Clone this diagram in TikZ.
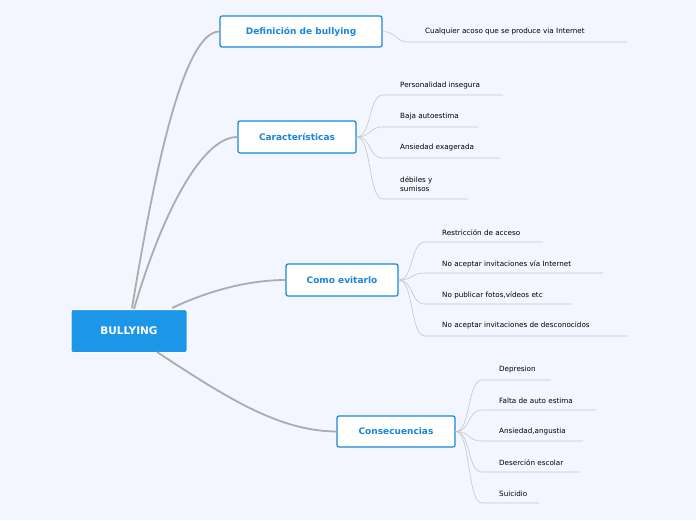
\documentclass[tikz,border=0pt]{standalone}
\usepackage{fontspec}
\setmainfont{DejaVu Sans}
\definecolor{bg}{HTML}{F3F6FE}
\definecolor{mblue}{HTML}{1A86D8}
\definecolor{rblue}{HTML}{1C96E6}
\begin{document}
\begin{tikzpicture}[x=1pt,y=-1pt,
  branch/.style={draw=mblue,fill=white,rounded corners=2pt,line width=1.2pt,font=\fontsize{9}{10}\selectfont\bfseries,text=mblue,inner sep=0pt},
  leaf/.style={anchor=west,font=\fontsize{7.2}{9}\selectfont,align=left,inner sep=0pt},
  trunk/.style={draw=gray!65,line width=1.8pt},
  twig/.style={draw=gray!45,line width=0.6pt}]
\fill[bg] (0,0) rectangle (696,520);
\useasboundingbox (0,0) rectangle (696,520);
\node[draw=white,line width=1pt,fill=rblue,rounded corners=2pt,minimum width=116,minimum height=43,text=white,font=\fontsize{10.5}{12}\selectfont\bfseries] (root) at (129,331) {BULLYING};
\coordinate (r0) at (132,308);
\node[branch,minimum width=162,minimum height=31] (def) at (301,31.5) {Definición de bullying};
\node[branch,minimum width=118,minimum height=32] (car) at (297,137) {Características};
\node[branch,minimum width=112,minimum height=32] (com) at (342,280) {Como evitarlo};
\node[branch,minimum width=118,minimum height=31] (con) at (396,431.5) {Consecuencias};
\draw[trunk] (r0) .. controls (150,200) and (180,31.5) .. (def.west);
\draw[trunk] (134,309) .. controls (160,220) and (200,137) .. (car.west);
\draw[trunk] (172,308) .. controls (210,290) and (250,280) .. (com.west);
\draw[trunk] (157,352) .. controls (230,400) and (280,431) .. (con.west);
\node[leaf] (d1) at (425,32) {Cualquier acoso que se produce via Internet};
\coordinate (d1s) at (408,42); \coordinate (d1e) at (627,42);
\draw[twig] (def.east) .. controls (396,31.5) and (396,42) .. (d1s) -- (d1e);
\foreach \n/\t/\ty/\uy/\ue in {1/Personalidad insegura/86/95/503,2/Baja autoestima/117/127/478,3/Ansiedad exagerada/148/158/500,4/{débiles y\\sumisos}/184/199/468}{
  \node[leaf] (c\n) at (400,\ty) {\t};
  \coordinate (cs\n) at (383,\uy); \coordinate (ce\n) at (\ue,\uy);
  \draw[twig] (car.east) .. controls (372,137) and (368,\uy) .. (cs\n) -- (ce\n);
}
\foreach \n/\t/\ty/\uy/\ue in {1/Restricción de acceso/233/242/543,2/No aceptar invitaciones vía Internet/264/273/603,3/{No publicar fotos,vídeos etc}/295/304/572,4/No aceptar invitaciones de desconocidos/326/336/628}{
  \node[leaf] (m\n) at (442,\ty) {\t};
  \coordinate (ms\n) at (425,\uy); \coordinate (me\n) at (\ue,\uy);
  \draw[twig] (com.east) .. controls (414,280) and (410,\uy) .. (ms\n) -- (me\n);
}
\foreach \n/\t/\ty/\uy/\ue in {1/Depresion/370/380/551,2/Falta de auto estima/401/410/596,3/{Ansiedad,angustia}/432/441/583,4/Deserción escolar/463/472/580,5/Suicidio/494/503/539}{
  \node[leaf] (k\n) at (499,\ty) {\t};
  \coordinate (ks\n) at (482,\uy); \coordinate (ke\n) at (\ue,\uy);
  \draw[twig] (con.east) .. controls (471,431.5) and (467,\uy) .. (ks\n) -- (ke\n);
}
\end{tikzpicture}
\end{document}
